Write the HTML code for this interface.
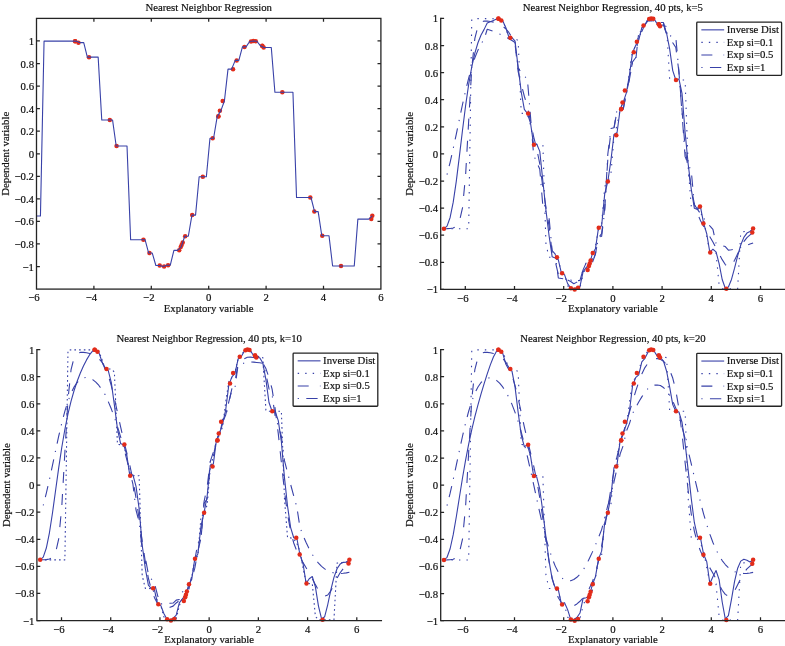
<!DOCTYPE html>
<html lang="en"><head><meta charset="utf-8"><title>Nearest Neighbor Regression</title>
<style>html,body{margin:0;padding:0;background:#fff}body{width:785px;height:646px;overflow:hidden}svg{display:block}</style></head><body>
<svg width="785" height="646" viewBox="0 0 785 646">
<rect width="785" height="646" fill="#fff"/>
<clipPath id="c1"><rect x="36.5" y="18.4" width="344.4" height="270.7"/></clipPath>
<g fill="#e22c1a"><circle cx="75.1" cy="41.14" r="2.25"/><circle cx="75.19" cy="41.16" r="2.25"/><circle cx="78.46" cy="42.67" r="2.25"/><circle cx="89.02" cy="57.15" r="2.25"/><circle cx="109.83" cy="120.05" r="2.25"/><circle cx="116.57" cy="146.04" r="2.25"/><circle cx="143.41" cy="239.71" r="2.25"/><circle cx="149.43" cy="253.05" r="2.25"/><circle cx="159.71" cy="265.5" r="2.25"/><circle cx="164.1" cy="266.53" r="2.25"/><circle cx="168.09" cy="265.18" r="2.25"/><circle cx="179.2" cy="250.33" r="2.25"/><circle cx="180.72" cy="247.11" r="2.25"/><circle cx="181.64" cy="245.03" r="2.25"/><circle cx="182.73" cy="242.45" r="2.25"/><circle cx="185.17" cy="236.22" r="2.25"/><circle cx="192.2" cy="215.09" r="2.25"/><circle cx="202.82" cy="176.71" r="2.25"/><circle cx="212.66" cy="138.23" r="2.25"/><circle cx="218.34" cy="116.56" r="2.25"/><circle cx="218.4" cy="116.35" r="2.25"/><circle cx="219.89" cy="110.87" r="2.25"/><circle cx="222.68" cy="100.97" r="2.25"/><circle cx="233.04" cy="69.16" r="2.25"/><circle cx="236.68" cy="60.39" r="2.25"/><circle cx="244.43" cy="46.89" r="2.25"/><circle cx="251.03" cy="41.48" r="2.25"/><circle cx="253.33" cy="40.97" r="2.25"/><circle cx="255.77" cy="41.23" r="2.25"/><circle cx="262.23" cy="45.8" r="2.25"/><circle cx="262.31" cy="45.9" r="2.25"/><circle cx="263.66" cy="47.57" r="2.25"/><circle cx="282.32" cy="92.26" r="2.25"/><circle cx="310.3" cy="197.51" r="2.25"/><circle cx="314.32" cy="211.59" r="2.25"/><circle cx="322.24" cy="235.79" r="2.25"/><circle cx="341.01" cy="265.95" r="2.25"/><circle cx="371.29" cy="219.12" r="2.25"/><circle cx="372.29" cy="215.86" r="2.25"/></g>
<path clip-path="url(#c1)" d="M11.59 216.02 L15.2 216.02 L18.8 216.02 L22.41 216.02 L26.02 216.02 L29.62 216.02 L33.23 216.02 L36.84 216.02 L40.44 216.02 L44.05 41.14 L47.66 41.14 L51.27 41.14 L54.87 41.14 L58.48 41.14 L62.09 41.14 L65.69 41.14 L69.3 41.14 L72.91 41.14 L76.51 41.16 L80.12 42.67 L83.73 42.67 L87.34 57.15 L90.94 57.15 L94.55 57.15 L98.16 57.15 L101.76 120.05 L105.37 120.05 L108.98 120.05 L112.58 120.05 L116.19 146.04 L119.8 146.04 L123.41 146.04 L127.01 146.04 L130.62 239.71 L134.23 239.71 L137.83 239.71 L141.44 239.71 L145.05 239.71 L148.66 253.05 L152.26 253.05 L155.87 265.5 L159.48 265.5 L163.08 266.53 L166.69 265.18 L170.3 265.18 L173.9 250.33 L177.51 250.33 L181.12 247.11 L184.73 236.22 L188.33 236.22 L191.94 215.09 L195.55 215.09 L199.15 176.71 L202.76 176.71 L206.37 176.71 L209.97 138.23 L213.58 138.23 L217.19 116.56 L220.8 110.87 L224.4 100.97 L228.01 69.16 L231.62 69.16 L235.22 60.39 L238.83 60.39 L242.44 46.89 L246.04 46.89 L249.65 41.48 L253.26 40.97 L256.87 41.23 L260.47 45.8 L264.08 47.57 L267.69 47.57 L271.29 47.57 L274.9 92.26 L278.51 92.26 L282.11 92.26 L285.72 92.26 L289.33 92.26 L292.94 92.26 L296.54 197.51 L300.15 197.51 L303.76 197.51 L307.36 197.51 L310.97 197.51 L314.58 211.59 L318.18 211.59 L321.79 235.79 L325.4 235.79 L329.01 235.79 L332.61 265.95 L336.22 265.95 L339.83 265.95 L343.43 265.95 L347.04 265.95 L350.65 265.95 L354.25 265.95 L357.86 219.12 L361.47 219.12 L365.08 219.12 L368.68 219.12 L372.29 215.86" fill="none" stroke="#3841a8" stroke-width="1.1" stroke-linejoin="round"/>
<rect x="36.5" y="18.4" width="344.4" height="270.7" fill="none" stroke="#242424" stroke-width="1.3"/>
<path d="M93.9 289.1 v-3.4 M93.9 18.4 v3.4 M151.3 289.1 v-3.4 M151.3 18.4 v3.4 M208.7 289.1 v-3.4 M208.7 18.4 v3.4 M266.1 289.1 v-3.4 M266.1 18.4 v3.4 M323.5 289.1 v-3.4 M323.5 18.4 v3.4 M36.5 266.54 h3.4 M380.9 266.54 h-3.4 M36.5 243.98 h3.4 M380.9 243.98 h-3.4 M36.5 221.43 h3.4 M380.9 221.43 h-3.4 M36.5 198.87 h3.4 M380.9 198.87 h-3.4 M36.5 176.31 h3.4 M380.9 176.31 h-3.4 M36.5 153.75 h3.4 M380.9 153.75 h-3.4 M36.5 131.19 h3.4 M380.9 131.19 h-3.4 M36.5 108.63 h3.4 M380.9 108.63 h-3.4 M36.5 86.07 h3.4 M380.9 86.07 h-3.4 M36.5 63.52 h3.4 M380.9 63.52 h-3.4 M36.5 40.96 h3.4 M380.9 40.96 h-3.4" stroke="#242424" stroke-width="1.25" fill="none"/>
<g font-family='"Liberation Serif", serif' font-size="10.75" fill="#111" stroke="#111" stroke-width="0.2">
<text x="34" y="301.2" text-anchor="middle">−6</text>
<text x="91.4" y="301.2" text-anchor="middle">−4</text>
<text x="148.8" y="301.2" text-anchor="middle">−2</text>
<text x="208.7" y="301.2" text-anchor="middle">0</text>
<text x="266.1" y="301.2" text-anchor="middle">2</text>
<text x="323.5" y="301.2" text-anchor="middle">4</text>
<text x="380.9" y="301.2" text-anchor="middle">6</text>
<text x="34" y="270.54" text-anchor="end">−1</text>
<text x="34" y="247.98" text-anchor="end">−0.8</text>
<text x="34" y="225.43" text-anchor="end">−0.6</text>
<text x="34" y="202.87" text-anchor="end">−0.4</text>
<text x="34" y="180.31" text-anchor="end">−0.2</text>
<text x="34" y="157.75" text-anchor="end">0</text>
<text x="34" y="135.19" text-anchor="end">0.2</text>
<text x="34" y="112.63" text-anchor="end">0.4</text>
<text x="34" y="90.07" text-anchor="end">0.6</text>
<text x="34" y="67.52" text-anchor="end">0.8</text>
<text x="34" y="44.96" text-anchor="end">1</text>
<text x="208.7" y="10.9" text-anchor="middle">Nearest Neighbor Regression</text>
<text x="208.7" y="311.7" text-anchor="middle">Explanatory variable</text>
<text transform="translate(9.1 153.75) rotate(-90)" text-anchor="middle">Dependent variable</text>
</g>
<path d="M443.95 228.74 L447.04 226.12 L450.13 217.45 L453.22 202.18 L456.31 181.06 L459.41 156.15 L462.5 130.21 L465.59 105.76 L468.68 84.43 L471.77 66.93 L474.86 53.19 L477.96 42.75 L481.05 35.01 L484.14 29.38 L487.23 22.97 L490.32 21.72 L493.41 20.38 L496.51 19.1 L499.6 19.15 L502.69 20.85 L505.78 27.51 L508.87 36.98 L511.97 37.66 L515.06 41.2 L518.15 67.34 L521.24 92.02 L524.33 109.31 L527.42 113.55 L530.52 123.01 L533.61 144.57 L536.7 143.95 L539.79 151.34 L542.88 181.26 L545.97 210.3 L549.07 235.74 L552.16 256.8 L555.25 258.01 L558.34 259.81 L561.43 273.03 L564.52 274.67 L567.62 283.65 L570.71 288.18 L573.8 289.13 L576.89 287.85 L579.98 286.36 L583.07 271.83 L586.17 267.5 L589.26 265.05 L592.35 253.79 L595.44 248.82 L598.53 227.69 L601.63 225.68 L604.72 193.92 L607.81 181.51 L610.9 160.49 L613.99 134.4 L617.08 132.48 L620.18 108.96 L623.27 102.09 L626.36 92.92 L629.45 74.9 L632.54 52.77 L635.63 45.43 L638.73 40.14 L641.82 27.58 L644.91 24.92 L648 19.35 L651.09 18.42 L654.18 19.09 L657.28 24.07 L660.37 26.12 L663.46 24.71 L666.55 33 L669.64 48.83 L672.74 70.58 L675.83 80.02 L678.92 78.93 L682.01 93.31 L685.1 132.21 L688.19 164.29 L691.29 189.33 L694.38 208.35 L697.47 209.48 L700.56 207.29 L703.65 223.39 L706.74 233.74 L709.84 252.32 L712.93 249.23 L716.02 251.8 L719.11 263.54 L722.2 279.52 L725.29 288.23 L728.39 287.02 L731.48 279.43 L734.57 268.15 L737.66 255.8 L740.75 245 L743.84 237.38 L746.94 233.08 L750.03 231.49 L753.12 228.56" fill="none" stroke="#3841a8" stroke-width="1.1" stroke-linejoin="round"/>
<path d="M443.95 228.74 L447.04 228.74 L450.13 228.74 L453.22 228.74 L456.31 228.74 L459.41 228.74 L462.5 228.74 L465.59 228.74 L468.68 228.74 L471.77 19.16 L474.86 18.63 L477.96 18.63 L481.05 18.63 L484.14 18.63 L487.23 18.64 L490.32 18.64 L493.41 18.68 L496.51 18.81 L499.6 19.2 L502.69 19.94 L505.78 28.48 L508.87 37.67 L511.97 37.85 L515.06 37.85 L518.15 40.8 L521.24 113.23 L524.33 113.48 L527.42 114.39 L530.52 125.19 L533.61 142.18 L536.7 144.52 L539.79 144.65 L542.88 144.67 L545.97 244.39 L549.07 257.21 L552.16 257.24 L555.25 257.62 L558.34 261.51 L561.43 270.63 L564.52 273.81 L567.62 285.84 L570.71 288.43 L573.8 288.84 L576.89 288.49 L579.98 287.79 L583.07 274.42 L586.17 266.57 L589.26 263.85 L592.35 259.78 L595.44 246.26 L598.53 229.3 L601.63 224.3 L604.72 186.44 L607.81 181.45 L610.9 173.96 L613.99 137.02 L617.08 124.76 L620.18 109.2 L623.27 102.52 L626.36 95.77 L629.45 70.65 L632.54 50.56 L635.63 46.52 L638.73 40.74 L641.82 27.9 L644.91 24.05 L648 19.6 L651.09 18.73 L654.18 19.68 L657.28 24.04 L660.37 25.02 L663.46 25.37 L666.55 26.45 L669.64 79.15 L672.74 80.04 L675.83 80.04 L678.92 80.04 L682.01 80.04 L685.1 80.04 L688.19 167.35 L691.29 206.55 L694.38 206.76 L697.47 207.89 L700.56 212.31 L703.65 219.92 L706.74 236.43 L709.84 251.52 L712.93 252.46 L716.02 252.59 L719.11 285.31 L722.2 288.74 L725.29 288.74 L728.39 288.74 L731.48 288.74 L734.57 288.74 L737.66 288.68 L740.75 231.95 L743.84 231.6 L746.94 231.27 L750.03 230.88 L753.12 230.45" fill="none" stroke="#3841a8" stroke-width="1.1" stroke-linejoin="round" stroke-dasharray="1.4 6.1"/>
<path d="M443.95 228.71 L447.04 228.66 L450.13 228.48 L453.22 227.95 L456.31 226.33 L459.41 221.48 L462.5 207.83 L465.59 175.27 L468.68 120.95 L471.77 68.28 L474.86 38.33 L477.96 26.27 L481.05 22.22 L484.14 21.09 L487.23 20.93 L490.32 21.44 L493.41 22.13 L496.51 23.06 L499.6 24.35 L502.69 26.17 L505.78 28.76 L508.87 32.42 L511.97 37.51 L515.06 44.28 L518.15 71.57 L521.24 84.34 L524.33 96.25 L527.42 106.31 L530.52 121.58 L533.61 136.57 L536.7 148.72 L539.79 163.83 L542.88 187.53 L545.97 207.38 L549.07 226.23 L552.16 253.07 L555.25 261.38 L558.34 274.37 L561.43 276.27 L564.52 278.13 L567.62 279.9 L570.71 281.51 L573.8 283.7 L576.89 282.12 L579.98 280.85 L583.07 269.89 L586.17 262.9 L589.26 262.7 L592.35 262.5 L595.44 253.73 L598.53 237.71 L601.63 233.63 L604.72 208.11 L607.81 159.26 L610.9 131.94 L613.99 128.56 L617.08 110.15 L620.18 109.32 L623.27 108.52 L626.36 93.43 L629.45 78.65 L632.54 61.82 L635.63 57.76 L638.73 33.25 L641.82 31.52 L644.91 24.47 L648 20.97 L651.09 20.92 L654.18 20.9 L657.28 22.52 L660.37 22.74 L663.46 22.95 L666.55 34.84 L669.64 38.49 L672.74 42.78 L675.83 47.54 L678.92 71.88 L682.01 110.03 L685.1 147.52 L688.19 169.51 L691.29 187.84 L694.38 204.22 L697.47 213.68 L700.56 220.79 L703.65 226.52 L706.74 231.62 L709.84 236.68 L712.93 242.05 L716.02 248.09 L719.11 253.92 L722.2 259.65 L725.29 264.58 L728.39 267.38 L731.48 265.17 L734.57 260.31 L737.66 253.84 L740.75 247.25 L743.84 241.7 L746.94 237.62 L750.03 234.87 L753.12 233.12" fill="none" stroke="#3841a8" stroke-width="1.1" stroke-linejoin="round" stroke-dasharray="11 11.2"/>
<path d="M447.04 174.55 L450.13 162.27 L453.22 148.64 L456.31 134.1 L459.41 119.18 L462.5 104.51 L465.59 90.67 L468.68 78.11 L471.77 67.12 L474.86 57.81 L477.96 50.14 L481.05 43.96 L484.14 39.1 L487.23 29.26 L490.32 30.27 L493.41 31.39 L496.51 32.61 L499.6 33.95 L502.69 35.41 L505.78 37 L508.87 38.71 L511.97 40.56 L515.06 42.54 L518.15 68.52 L521.24 72.16 L524.33 75.85 L527.42 79.54 L530.52 116.6 L533.61 154.98 L536.7 162.09 L539.79 169.25 L542.88 206.31 L545.97 212.09 L549.07 217.76 L552.16 250.72 L555.25 254.11 L558.34 277.95 L561.43 278.43 L564.52 278.9 L567.62 279.36 L570.71 279.81 L573.8 282.25 L576.89 280.78 L579.98 280.43 L583.07 269.67 L586.17 262.71 L589.26 262.66 L592.35 262.61 L595.44 254.06 L598.53 237.38 L601.63 236.34 L604.72 210.66 L607.81 154.27 L610.9 128.57 L613.99 127.75 L617.08 109.5 L620.18 109.29 L623.27 109.08 L626.36 92.88 L629.45 79.05 L632.54 62.35 L635.63 61.23 L638.73 31.88 L641.82 31.43 L644.91 24.63 L648 21.13 L651.09 21.12 L654.18 20.93 L657.28 22.44 L660.37 22.5 L663.46 22.55 L666.55 34.79 L669.64 35.68 L672.74 36.61 L675.83 37.58 L678.92 71.71 L682.01 113.05 L685.1 156.66 L688.19 164.15 L691.29 171.24 L694.38 204.7 L697.47 209.38 L700.56 213.84 L703.65 218.07 L706.74 222.08 L709.84 225.87 L712.93 229.46 L716.02 243.23 L719.11 244.43 L722.2 245.56 L725.29 246.6 L728.39 250.2 L731.48 249.69 L734.57 249.02 L737.66 248.21 L740.75 247.27 L743.84 246.25 L746.94 245.17 L750.03 244.06 L753.12 242.94" fill="none" stroke="#3841a8" stroke-width="1.1" stroke-linejoin="round" stroke-dasharray="1.2 7.4 11.3 7.5"/>
<g fill="#e22c1a"><circle cx="443.95" cy="228.74" r="2.25"/><circle cx="498.39" cy="18.62" r="2.25"/><circle cx="498.46" cy="18.65" r="2.25"/><circle cx="501.27" cy="20.46" r="2.25"/><circle cx="510.32" cy="37.85" r="2.25"/><circle cx="528.15" cy="113.43" r="2.25"/><circle cx="533.93" cy="144.66" r="2.25"/><circle cx="556.93" cy="257.21" r="2.25"/><circle cx="562.1" cy="273.23" r="2.25"/><circle cx="570.91" cy="288.19" r="2.25"/><circle cx="574.67" cy="289.43" r="2.25"/><circle cx="578.09" cy="287.81" r="2.25"/><circle cx="587.61" cy="269.97" r="2.25"/><circle cx="588.91" cy="266.1" r="2.25"/><circle cx="589.7" cy="263.61" r="2.25"/><circle cx="590.64" cy="260.51" r="2.25"/><circle cx="592.73" cy="253.01" r="2.25"/><circle cx="598.75" cy="227.63" r="2.25"/><circle cx="607.86" cy="181.51" r="2.25"/><circle cx="616.29" cy="135.28" r="2.25"/><circle cx="621.17" cy="109.24" r="2.25"/><circle cx="621.21" cy="108.98" r="2.25"/><circle cx="622.49" cy="102.4" r="2.25"/><circle cx="624.88" cy="90.5" r="2.25"/><circle cx="633.76" cy="52.29" r="2.25"/><circle cx="636.88" cy="41.75" r="2.25"/><circle cx="643.53" cy="25.53" r="2.25"/><circle cx="649.18" cy="19.02" r="2.25"/><circle cx="651.15" cy="18.42" r="2.25"/><circle cx="653.24" cy="18.72" r="2.25"/><circle cx="658.78" cy="24.22" r="2.25"/><circle cx="658.85" cy="24.34" r="2.25"/><circle cx="660.01" cy="26.35" r="2.25"/><circle cx="676" cy="80.04" r="2.25"/><circle cx="699.98" cy="206.5" r="2.25"/><circle cx="703.43" cy="223.42" r="2.25"/><circle cx="710.22" cy="252.49" r="2.25"/><circle cx="726.31" cy="288.74" r="2.25"/><circle cx="752.26" cy="232.47" r="2.25"/><circle cx="753.12" cy="228.56" r="2.25"/></g>
<path d="M440.7 18.4 V289.45 H785.1" fill="none" stroke="#242424" stroke-width="1.3" stroke-linecap="square"/>
<path d="M465.3 289.45 v-3.4 M514.5 289.45 v-3.4 M563.7 289.45 v-3.4 M612.9 289.45 v-3.4 M662.1 289.45 v-3.4 M711.3 289.45 v-3.4 M760.5 289.45 v-3.4 M440.7 289.45 h3.4 M440.7 262.34 h3.4 M440.7 235.24 h3.4 M440.7 208.13 h3.4 M440.7 181.03 h3.4 M440.7 153.92 h3.4 M440.7 126.82 h3.4 M440.7 99.72 h3.4 M440.7 72.61 h3.4 M440.7 45.5 h3.4 M440.7 18.4 h3.4" stroke="#242424" stroke-width="1.25" fill="none"/>
<g font-family='"Liberation Serif", serif' font-size="10.75" fill="#111" stroke="#111" stroke-width="0.2">
<text x="462.8" y="301.55" text-anchor="middle">−6</text>
<text x="512" y="301.55" text-anchor="middle">−4</text>
<text x="561.2" y="301.55" text-anchor="middle">−2</text>
<text x="612.9" y="301.55" text-anchor="middle">0</text>
<text x="662.1" y="301.55" text-anchor="middle">2</text>
<text x="711.3" y="301.55" text-anchor="middle">4</text>
<text x="760.5" y="301.55" text-anchor="middle">6</text>
<text x="438.2" y="293.45" text-anchor="end">−1</text>
<text x="438.2" y="266.34" text-anchor="end">−0.8</text>
<text x="438.2" y="239.24" text-anchor="end">−0.6</text>
<text x="438.2" y="212.13" text-anchor="end">−0.4</text>
<text x="438.2" y="185.03" text-anchor="end">−0.2</text>
<text x="438.2" y="157.92" text-anchor="end">0</text>
<text x="438.2" y="130.82" text-anchor="end">0.2</text>
<text x="438.2" y="103.72" text-anchor="end">0.4</text>
<text x="438.2" y="76.61" text-anchor="end">0.6</text>
<text x="438.2" y="49.5" text-anchor="end">0.8</text>
<text x="438.2" y="22.4" text-anchor="end">1</text>
<text x="612.9" y="10.9" text-anchor="middle">Nearest Neighbor Regression, 40 pts, k=5</text>
<text x="612.9" y="312.05" text-anchor="middle">Explanatory variable</text>
<text transform="translate(413.3 153.92) rotate(-90)" text-anchor="middle">Dependent variable</text>
</g>
<rect x="696.75" y="22.1" width="84.85" height="53.3" rx="0.8" fill="#fff" stroke="#242424" stroke-width="1.3"/>
<g font-family='"Liberation Serif", serif' font-size="10.75" fill="#111" stroke="#111" stroke-width="0.2">
<path d="M701.35 29.85 h22.8" stroke="#3841a8" stroke-width="1.1" fill="none"/>
<text x="726.75" y="33.25">Inverse Dist</text>
<path d="M701.35 42.4 h22.8" stroke="#3841a8" stroke-width="1.1" fill="none" stroke-dasharray="1.4 6.1"/>
<text x="726.75" y="45.8">Exp si=0.1</text>
<path d="M701.35 54.95 h22.8" stroke="#3841a8" stroke-width="1.1" fill="none" stroke-dasharray="11 11.2"/>
<text x="726.75" y="58.35">Exp si=0.5</text>
<path d="M701.35 67.5 h22.8" stroke="#3841a8" stroke-width="1.1" fill="none" stroke-dasharray="1.2 7.4 11.3 7.5"/>
<text x="726.75" y="70.9">Exp si=1</text>
</g>
<path d="M40.15 559.86 L43.24 557.08 L46.33 548.05 L49.43 532.78 L52.52 512.72 L55.61 490.28 L58.7 467.9 L61.8 447.29 L64.89 429.27 L67.98 413.95 L71.07 401.08 L74.17 390.23 L77.26 380.99 L80.35 372.99 L83.44 366 L86.54 359.88 L89.63 354.7 L92.72 350.86 L95.82 350.55 L98.91 352.68 L102 361.78 L105.09 369.06 L108.19 370.27 L111.28 382.31 L114.37 404.81 L117.46 428.79 L120.56 443.44 L123.65 444.9 L126.74 454.67 L129.83 475.71 L132.93 474.81 L136.02 486.37 L139.11 508.48 L142.2 545.02 L145.3 568.38 L148.39 585.23 L151.48 588.82 L154.58 590.36 L157.67 604.04 L160.76 605.39 L163.85 613.56 L166.95 619.27 L170.04 619.89 L173.13 618.35 L176.22 615.19 L179.32 602.84 L182.41 598.77 L185.5 596.14 L188.59 584.83 L191.69 579.57 L194.78 558.83 L197.87 553.98 L200.96 526.44 L204.06 512.65 L207.15 496.16 L210.24 465.23 L213.34 463.94 L216.43 440.14 L219.52 433.1 L222.61 423.85 L225.71 409.78 L228.8 385.18 L231.89 376.9 L234.98 373.37 L238.08 359.05 L241.17 356.7 L244.26 351.15 L247.35 349.62 L250.45 350.68 L253.54 355.44 L256.63 357.35 L259.72 357.73 L262.82 363.09 L265.91 379.56 L269 402.49 L272.1 411.2 L275.19 411.45 L278.28 420.64 L281.37 441.76 L284.47 477.66 L287.56 506.27 L290.65 527.61 L293.74 537.77 L296.84 538.26 L299.93 554.5 L303.02 563.48 L306.11 583.39 L309.21 578.76 L312.3 576.52 L315.39 586.81 L318.48 606.08 L321.58 618.98 L324.67 616.71 L327.76 604.51 L330.85 589.91 L333.95 577.37 L337.04 568.75 L340.13 564.1 L343.23 562.34 L346.32 562.25 L349.41 559.68" fill="none" stroke="#3841a8" stroke-width="1.1" stroke-linejoin="round"/>
<path d="M40.15 559.86 L43.24 559.86 L46.33 559.86 L49.43 559.86 L52.52 559.86 L55.61 559.86 L58.7 559.86 L61.8 559.86 L64.89 559.86 L67.98 350.36 L71.07 349.83 L74.17 349.83 L77.26 349.83 L80.35 349.83 L83.44 349.84 L86.54 349.84 L89.63 349.88 L92.72 350.01 L95.82 350.4 L98.91 351.14 L102 359.67 L105.09 368.87 L108.19 369.04 L111.28 369.04 L114.37 371.99 L117.46 444.4 L120.56 444.65 L123.65 445.55 L126.74 456.35 L129.83 473.33 L132.93 475.67 L136.02 475.81 L139.11 475.82 L142.2 575.51 L145.3 588.33 L148.39 588.35 L151.48 588.73 L154.58 592.62 L157.67 601.74 L160.76 604.92 L163.85 616.94 L166.95 619.53 L170.04 619.94 L173.13 619.59 L176.22 618.87 L179.32 605.61 L182.41 597.73 L185.5 594.96 L188.59 590.52 L191.69 577.5 L194.78 560.44 L197.87 555.42 L200.96 517.58 L204.06 512.59 L207.15 505.1 L210.24 468.18 L213.34 455.96 L216.43 440.36 L219.52 433.69 L222.61 426.94 L225.71 402.14 L228.8 381.75 L231.89 377.71 L234.98 371.93 L238.08 359.1 L241.17 355.25 L244.26 350.81 L247.35 349.95 L250.45 351.09 L253.54 355.23 L256.63 356.22 L259.72 356.57 L262.82 357.64 L265.91 410.33 L269 411.22 L272.1 411.22 L275.19 411.22 L278.28 411.22 L281.37 411.22 L284.47 498.5 L287.56 537.68 L290.65 537.89 L293.74 539.02 L296.84 543.44 L299.93 551.04 L303.02 567.55 L306.11 582.64 L309.21 583.58 L312.3 583.7 L315.39 616.41 L318.48 619.84 L321.58 619.84 L324.67 619.84 L327.76 619.84 L330.85 619.84 L333.95 619.78 L337.04 563.07 L340.13 562.73 L343.23 562.39 L346.32 562 L349.41 561.57" fill="none" stroke="#3841a8" stroke-width="1.1" stroke-linejoin="round" stroke-dasharray="1.6 3.12"/>
<path d="M40.15 559.84 L43.24 559.78 L46.33 559.61 L49.43 559.07 L52.52 557.45 L55.61 552.6 L58.7 538.96 L61.8 506.41 L64.89 452.11 L67.98 399.47 L71.07 369.54 L74.17 357.51 L77.26 353.49 L80.35 352.41 L83.44 352.38 L86.54 352.8 L89.63 353.53 L92.72 354.61 L95.82 356.21 L98.91 358.59 L102 362.19 L105.09 367.53 L108.19 375.21 L111.28 385.56 L114.37 398.34 L117.46 412.51 L120.56 426.73 L123.65 440.09 L126.74 452.65 L129.83 465.42 L132.93 479.89 L136.02 497.98 L139.11 518.66 L142.2 541.04 L145.3 561.47 L148.39 578.24 L151.48 589.97 L154.58 597.88 L157.67 603.87 L160.76 607.36 L163.85 607.92 L166.95 607.89 L170.04 607.26 L173.13 606.12 L176.22 602.97 L179.32 600.49 L182.41 595.47 L185.5 591.99 L188.59 588.26 L191.69 579.47 L194.78 568.13 L197.87 551.52 L200.96 538.28 L204.06 501.53 L207.15 486.97 L210.24 461.65 L213.34 452.2 L216.43 440.2 L219.52 432.88 L222.61 422.23 L225.71 414.93 L228.8 402.34 L231.89 388.74 L234.98 381.41 L238.08 363.84 L241.17 361 L244.26 358.8 L247.35 357.22 L250.45 357.12 L253.54 357.58 L256.63 358.69 L259.72 360.51 L262.82 363.15 L265.91 368.57 L269 377.46 L272.1 389.14 L275.19 409.1 L278.28 433.65 L281.37 462.31 L284.47 491.26 L287.56 514.39 L290.65 531.32 L293.74 543 L296.84 551.15 L299.93 557.35 L303.02 562.63 L306.11 567.75 L309.21 573.1 L312.3 578.8 L315.39 584.64 L318.48 590.08 L321.58 594.24 L324.67 596.13 L327.76 594.98 L330.85 590.81 L333.95 584.7 L337.04 578.27 L340.13 572.79 L343.23 568.72 L346.32 565.98 L349.41 564.24" fill="none" stroke="#3841a8" stroke-width="1.1" stroke-linejoin="round" stroke-dasharray="11 11.2"/>
<path d="M43.24 505.45 L46.33 493.16 L49.43 479.58 L52.52 465.15 L55.61 450.47 L58.7 436.2 L61.8 422.94 L64.89 411.17 L67.98 401.19 L71.07 393.1 L74.17 386.87 L77.26 382.37 L80.35 379.42 L83.44 377.82 L86.54 377.42 L89.63 378.08 L92.72 379.68 L95.82 382.16 L98.91 385.49 L102 389.64 L105.09 394.64 L108.19 401.4 L111.28 408.82 L114.37 417.16 L117.46 426.44 L120.56 436.63 L123.65 447.66 L126.74 459.4 L129.83 471.66 L132.93 484.21 L136.02 509.99 L139.11 521.89 L142.2 549.54 L145.3 557.77 L148.39 574.15 L151.48 579.17 L154.58 583.63 L157.67 595.75 L160.76 603.91 L163.85 603.74 L166.95 603.55 L170.04 603.32 L173.13 603.06 L176.22 600.16 L179.32 599.44 L182.41 591.96 L185.5 590.6 L188.59 589.21 L191.69 576.14 L194.78 560.42 L197.87 542.74 L200.96 538.7 L204.06 503.43 L207.15 498.94 L210.24 461.75 L213.34 457.87 L216.43 439.18 L219.52 436.03 L222.61 419.38 L225.71 416.75 L228.8 401.98 L231.89 389.75 L234.98 387.55 L238.08 364.9 L241.17 363.95 L244.26 363.06 L247.35 361.75 L250.45 361.9 L253.54 362.13 L256.63 362.44 L259.72 362.81 L262.82 363.27 L265.91 373.85 L269 388.73 L272.1 394.78 L275.19 416.49 L278.28 426.03 L281.37 436.21 L284.47 460.66 L287.56 472.62 L290.65 484.49 L293.74 496.02 L296.84 507 L299.93 527.23 L303.02 535.31 L306.11 542.54 L309.21 548.92 L312.3 554.45 L315.39 559.17 L318.48 563.11 L321.58 566.33 L324.67 568.86 L327.76 570.78 L330.85 572.14 L333.95 573 L337.04 573.44 L340.13 573.52 L343.23 573.32 L346.32 572.91 L349.41 572.33" fill="none" stroke="#3841a8" stroke-width="1.1" stroke-linejoin="round" stroke-dasharray="1.2 7.4 11.3 7.5"/>
<g fill="#e22c1a"><circle cx="40.15" cy="559.86" r="2.25"/><circle cx="94.6" cy="349.82" r="2.25"/><circle cx="94.68" cy="349.85" r="2.25"/><circle cx="97.48" cy="351.65" r="2.25"/><circle cx="106.54" cy="369.04" r="2.25"/><circle cx="124.38" cy="444.6" r="2.25"/><circle cx="130.16" cy="475.81" r="2.25"/><circle cx="153.17" cy="588.32" r="2.25"/><circle cx="158.34" cy="604.34" r="2.25"/><circle cx="167.15" cy="619.3" r="2.25"/><circle cx="170.91" cy="620.53" r="2.25"/><circle cx="174.33" cy="618.91" r="2.25"/><circle cx="183.85" cy="601.08" r="2.25"/><circle cx="185.16" cy="597.21" r="2.25"/><circle cx="185.95" cy="594.72" r="2.25"/><circle cx="186.88" cy="591.62" r="2.25"/><circle cx="188.97" cy="584.13" r="2.25"/><circle cx="195" cy="558.75" r="2.25"/><circle cx="204.11" cy="512.65" r="2.25"/><circle cx="212.55" cy="466.44" r="2.25"/><circle cx="217.42" cy="440.41" r="2.25"/><circle cx="217.47" cy="440.15" r="2.25"/><circle cx="218.75" cy="433.57" r="2.25"/><circle cx="221.13" cy="421.68" r="2.25"/><circle cx="230.02" cy="383.47" r="2.25"/><circle cx="233.14" cy="372.94" r="2.25"/><circle cx="239.79" cy="356.73" r="2.25"/><circle cx="245.45" cy="350.22" r="2.25"/><circle cx="247.41" cy="349.62" r="2.25"/><circle cx="249.51" cy="349.92" r="2.25"/><circle cx="255.04" cy="355.42" r="2.25"/><circle cx="255.12" cy="355.54" r="2.25"/><circle cx="256.27" cy="357.55" r="2.25"/><circle cx="272.27" cy="411.22" r="2.25"/><circle cx="296.26" cy="537.63" r="2.25"/><circle cx="299.7" cy="554.54" r="2.25"/><circle cx="306.5" cy="583.61" r="2.25"/><circle cx="322.59" cy="619.84" r="2.25"/><circle cx="348.55" cy="563.59" r="2.25"/><circle cx="349.41" cy="559.68" r="2.25"/></g>
<path d="M36.9 349.6 V620.55 H381.4" fill="none" stroke="#242424" stroke-width="1.3" stroke-linecap="square"/>
<path d="M61.51 620.55 v-3.4 M110.72 620.55 v-3.4 M159.94 620.55 v-3.4 M209.15 620.55 v-3.4 M258.36 620.55 v-3.4 M307.58 620.55 v-3.4 M356.79 620.55 v-3.4 M36.9 620.55 h3.4 M36.9 593.45 h3.4 M36.9 566.36 h3.4 M36.9 539.26 h3.4 M36.9 512.17 h3.4 M36.9 485.07 h3.4 M36.9 457.98 h3.4 M36.9 430.88 h3.4 M36.9 403.79 h3.4 M36.9 376.7 h3.4 M36.9 349.6 h3.4" stroke="#242424" stroke-width="1.25" fill="none"/>
<g font-family='"Liberation Serif", serif' font-size="10.75" fill="#111" stroke="#111" stroke-width="0.2">
<text x="59.01" y="632.65" text-anchor="middle">−6</text>
<text x="108.22" y="632.65" text-anchor="middle">−4</text>
<text x="157.44" y="632.65" text-anchor="middle">−2</text>
<text x="209.15" y="632.65" text-anchor="middle">0</text>
<text x="258.36" y="632.65" text-anchor="middle">2</text>
<text x="307.58" y="632.65" text-anchor="middle">4</text>
<text x="356.79" y="632.65" text-anchor="middle">6</text>
<text x="34.4" y="624.55" text-anchor="end">−1</text>
<text x="34.4" y="597.45" text-anchor="end">−0.8</text>
<text x="34.4" y="570.36" text-anchor="end">−0.6</text>
<text x="34.4" y="543.26" text-anchor="end">−0.4</text>
<text x="34.4" y="516.17" text-anchor="end">−0.2</text>
<text x="34.4" y="489.07" text-anchor="end">0</text>
<text x="34.4" y="461.98" text-anchor="end">0.2</text>
<text x="34.4" y="434.88" text-anchor="end">0.4</text>
<text x="34.4" y="407.79" text-anchor="end">0.6</text>
<text x="34.4" y="380.7" text-anchor="end">0.8</text>
<text x="34.4" y="353.6" text-anchor="end">1</text>
<text x="209.15" y="342.1" text-anchor="middle">Nearest Neighbor Regression, 40 pts, k=10</text>
<text x="209.15" y="643.15" text-anchor="middle">Explanatory variable</text>
<text transform="translate(9.5 485.07) rotate(-90)" text-anchor="middle">Dependent variable</text>
</g>
<rect x="293.1" y="353.1" width="84.7" height="53.15" rx="0.8" fill="#fff" stroke="#242424" stroke-width="1.3"/>
<g font-family='"Liberation Serif", serif' font-size="10.75" fill="#111" stroke="#111" stroke-width="0.2">
<path d="M297.7 360.85 h22.8" stroke="#3841a8" stroke-width="1.1" fill="none"/>
<text x="323.1" y="364.25">Inverse Dist</text>
<path d="M297.7 373.4 h22.8" stroke="#3841a8" stroke-width="1.1" fill="none" stroke-dasharray="1.4 6.1"/>
<text x="323.1" y="376.8">Exp si=0.1</text>
<path d="M297.7 385.95 h22.8" stroke="#3841a8" stroke-width="1.1" fill="none" stroke-dasharray="11 11.2"/>
<text x="323.1" y="389.35">Exp si=0.5</text>
<path d="M297.7 398.5 h22.8" stroke="#3841a8" stroke-width="1.1" fill="none" stroke-dasharray="1.2 7.4 11.3 7.5"/>
<text x="323.1" y="401.9">Exp si=1</text>
</g>
<path d="M443.95 559.98 L447.04 557.3 L450.13 548.75 L453.22 534.66 L456.31 516.74 L459.41 497.24 L462.5 478.02 L465.59 460.18 L468.68 444.1 L471.77 429.71 L474.86 416.74 L477.96 404.89 L481.05 393.89 L484.14 383.56 L487.23 373.86 L490.32 364.89 L493.41 357.07 L496.51 351.31 L499.6 350.71 L502.69 353.17 L505.78 364.02 L508.87 369.7 L511.97 371.12 L515.06 387.15 L518.15 412.24 L521.24 435.22 L524.33 446.56 L527.42 445.12 L530.52 455.88 L533.61 475.81 L536.7 476.91 L539.79 489.46 L542.88 511.92 L545.97 537.57 L549.07 561.04 L552.16 578.8 L555.25 587.81 L558.34 589.77 L561.43 603.93 L564.52 602.68 L567.62 609.65 L570.71 619.39 L573.8 619.49 L576.89 617.56 L579.98 613.04 L583.07 598.35 L586.17 597.83 L589.26 596.2 L592.35 584.81 L595.44 576.8 L598.53 558.91 L601.63 551.13 L604.72 522.6 L607.81 512.74 L610.9 496.08 L613.99 467.64 L617.08 464.16 L620.18 440.39 L623.27 433.25 L626.36 424.33 L629.45 410.95 L632.54 385.86 L635.63 377.7 L638.73 374.87 L641.82 361.87 L644.91 358.31 L648 352.17 L651.09 349.62 L654.18 351.24 L657.28 356.1 L660.37 357.43 L663.46 361.03 L666.55 371 L669.64 386.96 L672.74 404.63 L675.83 411.24 L678.92 412.03 L682.01 422.24 L685.1 443.33 L688.19 470.36 L691.29 498.73 L694.38 522.71 L697.47 536.47 L700.56 538.29 L703.65 554.59 L706.74 561.6 L709.84 583.46 L712.93 576.66 L716.02 570.53 L719.11 579.58 L722.2 601.98 L725.29 618.81 L728.39 615.66 L731.48 599.33 L734.57 581.46 L737.66 568.2 L740.75 561.13 L743.84 559.22 L746.94 560.19 L750.03 561.91 L753.12 559.8" fill="none" stroke="#3841a8" stroke-width="1.1" stroke-linejoin="round"/>
<path d="M443.95 559.98 L447.04 559.98 L450.13 559.98 L453.22 559.98 L456.31 559.98 L459.41 559.98 L462.5 559.98 L465.59 559.98 L468.68 559.98 L471.77 350.36 L474.86 349.83 L477.96 349.83 L481.05 349.83 L484.14 349.83 L487.23 349.84 L490.32 349.84 L493.41 349.88 L496.51 350.01 L499.6 350.4 L502.69 351.14 L505.78 359.68 L508.87 368.88 L511.97 369.05 L515.06 369.05 L518.15 372.01 L521.24 444.45 L524.33 444.7 L527.42 445.61 L530.52 456.41 L533.61 473.4 L536.7 475.74 L539.79 475.88 L542.88 475.89 L545.97 575.63 L549.07 588.46 L552.16 588.49 L555.25 588.86 L558.34 592.75 L561.43 601.88 L564.52 605.06 L567.62 617.08 L570.71 619.68 L573.8 620.09 L576.89 619.74 L579.98 619.02 L583.07 605.75 L586.17 597.87 L589.26 595.09 L592.35 590.65 L595.44 577.62 L598.53 560.56 L601.63 555.54 L604.72 517.68 L607.81 512.68 L610.9 505.19 L613.99 468.24 L617.08 456.02 L620.18 440.41 L623.27 433.74 L626.36 426.98 L629.45 402.17 L632.54 381.76 L635.63 377.73 L638.73 371.95 L641.82 359.1 L644.91 355.25 L648 350.81 L651.09 349.95 L654.18 351.09 L657.28 355.23 L660.37 356.22 L663.46 356.57 L666.55 357.65 L669.64 410.37 L672.74 411.25 L675.83 411.25 L678.92 411.25 L682.01 411.25 L685.1 411.25 L688.19 498.58 L691.29 537.78 L694.38 537.99 L697.47 539.13 L700.56 543.55 L703.65 551.15 L706.74 567.67 L709.84 582.77 L712.93 583.71 L716.02 583.83 L719.11 616.56 L722.2 619.99 L725.29 619.99 L728.39 619.99 L731.48 619.99 L734.57 619.99 L737.66 619.93 L740.75 563.19 L743.84 562.84 L746.94 562.51 L750.03 562.12 L753.12 561.69" fill="none" stroke="#3841a8" stroke-width="1.1" stroke-linejoin="round" stroke-dasharray="1.4 6.1"/>
<path d="M443.95 559.95 L447.04 559.9 L450.13 559.72 L453.22 559.19 L456.31 557.57 L459.41 552.71 L462.5 539.06 L465.59 506.49 L468.68 452.16 L471.77 399.5 L474.86 369.55 L477.96 357.51 L481.05 353.49 L484.14 352.41 L487.23 352.38 L490.32 352.8 L493.41 353.53 L496.51 354.61 L499.6 356.21 L502.69 358.6 L505.78 362.19 L508.87 367.54 L511.97 375.22 L515.06 385.58 L518.15 398.36 L521.24 412.55 L524.33 426.78 L527.42 440.16 L530.52 452.75 L533.61 465.59 L536.7 480.2 L539.79 497.9 L542.88 518.78 L545.97 541.03 L549.07 561.62 L552.16 578.15 L555.25 589.98 L558.34 597.8 L561.43 602.68 L564.52 605.5 L567.62 606.78 L570.71 606.83 L573.8 605.83 L576.89 603.94 L579.98 601.27 L583.07 597.9 L586.17 593.75 L589.26 588.56 L592.35 581.86 L595.44 572.97 L598.53 561.17 L601.63 546.02 L604.72 527.86 L607.81 508.09 L610.9 488.75 L613.99 471.26 L617.08 456.41 L620.18 443.81 L623.27 432.84 L626.36 422.17 L629.45 411.97 L632.54 401.59 L635.63 391.44 L638.73 382.01 L641.82 373.94 L644.91 367.61 L648 363.11 L651.09 360.27 L654.18 358.82 L657.28 358.56 L660.37 359.37 L663.46 361.32 L666.55 364.66 L669.64 369.92 L672.74 378.06 L675.83 390.48 L678.92 408.79 L682.01 433.52 L685.1 462.46 L688.19 490.81 L691.29 514.23 L694.38 531.32 L697.47 543.07 L700.56 551.25 L703.65 557.44 L706.74 562.74 L709.84 567.87 L712.93 573.23 L716.02 578.93 L719.11 584.77 L722.2 590.21 L725.29 594.38 L728.39 596.26 L731.48 595.11 L734.57 590.94 L737.66 584.83 L740.75 578.4 L743.84 572.91 L746.94 568.85 L750.03 566.1 L753.12 564.36" fill="none" stroke="#3841a8" stroke-width="1.1" stroke-linejoin="round" stroke-dasharray="11 11.2"/>
<path d="M447.04 505.54 L450.13 493.24 L453.22 479.65 L456.31 465.22 L459.41 450.53 L462.5 436.25 L465.59 422.99 L468.68 411.22 L471.77 401.24 L474.86 393.16 L477.96 386.95 L481.05 382.49 L484.14 379.58 L487.23 378.07 L490.32 377.77 L493.41 378.58 L496.51 380.4 L499.6 383.19 L502.69 386.94 L505.78 391.68 L508.87 397.46 L511.97 404.33 L515.06 412.38 L518.15 421.65 L521.24 432.16 L524.33 443.86 L527.42 456.63 L530.52 470.26 L533.61 484.39 L536.7 498.69 L539.79 512.69 L542.88 525.98 L545.97 538.18 L549.07 549.02 L552.16 558.35 L555.25 566.12 L558.34 572.35 L561.43 577.52 L564.52 580.01 L567.62 580.85 L570.71 580.75 L573.8 579.54 L576.89 577.29 L579.98 574.31 L583.07 570.01 L586.17 565.09 L589.26 558.71 L592.35 552.14 L595.44 545.06 L598.53 537.53 L601.63 529.62 L604.72 518.1 L607.81 505.46 L610.9 496.29 L613.99 481.95 L617.08 468.01 L620.18 453.9 L623.27 445.34 L626.36 431.12 L629.45 423.61 L632.54 413.59 L635.63 407.56 L638.73 401.99 L641.82 396.91 L644.91 391.97 L648 388.5 L651.09 386.25 L654.18 385.16 L657.28 384.93 L660.37 385.57 L663.46 387.53 L666.55 390.73 L669.64 395.19 L672.74 401 L675.83 408.22 L678.92 416.85 L682.01 426.99 L685.1 438.57 L688.19 450.93 L691.29 463.86 L694.38 477.01 L697.47 489.98 L700.56 502.42 L703.65 514.06 L706.74 524.69 L709.84 534.18 L712.93 542.48 L716.02 549.61 L719.11 555.6 L722.2 560.55 L725.29 564.53 L728.39 567.63 L731.48 569.97 L734.57 571.62 L737.66 572.69 L740.75 573.28 L743.84 573.46 L746.94 573.33 L750.03 572.95 L753.12 572.41" fill="none" stroke="#3841a8" stroke-width="1.1" stroke-linejoin="round" stroke-dasharray="1.2 7.4 11.3 7.5"/>
<g fill="#e22c1a"><circle cx="443.95" cy="559.98" r="2.25"/><circle cx="498.39" cy="349.82" r="2.25"/><circle cx="498.46" cy="349.85" r="2.25"/><circle cx="501.27" cy="351.66" r="2.25"/><circle cx="510.32" cy="369.05" r="2.25"/><circle cx="528.15" cy="444.65" r="2.25"/><circle cx="533.93" cy="475.88" r="2.25"/><circle cx="556.93" cy="588.46" r="2.25"/><circle cx="562.1" cy="604.48" r="2.25"/><circle cx="570.91" cy="619.44" r="2.25"/><circle cx="574.67" cy="620.68" r="2.25"/><circle cx="578.09" cy="619.06" r="2.25"/><circle cx="587.61" cy="601.22" r="2.25"/><circle cx="588.91" cy="597.34" r="2.25"/><circle cx="589.7" cy="594.85" r="2.25"/><circle cx="590.64" cy="591.75" r="2.25"/><circle cx="592.73" cy="584.26" r="2.25"/><circle cx="598.75" cy="558.87" r="2.25"/><circle cx="607.86" cy="512.74" r="2.25"/><circle cx="616.29" cy="466.5" r="2.25"/><circle cx="621.17" cy="440.46" r="2.25"/><circle cx="621.21" cy="440.2" r="2.25"/><circle cx="622.49" cy="433.62" r="2.25"/><circle cx="624.88" cy="421.72" r="2.25"/><circle cx="633.76" cy="383.49" r="2.25"/><circle cx="636.88" cy="372.96" r="2.25"/><circle cx="643.53" cy="356.73" r="2.25"/><circle cx="649.18" cy="350.22" r="2.25"/><circle cx="651.15" cy="349.62" r="2.25"/><circle cx="653.24" cy="349.92" r="2.25"/><circle cx="658.78" cy="355.42" r="2.25"/><circle cx="658.85" cy="355.54" r="2.25"/><circle cx="660.01" cy="357.55" r="2.25"/><circle cx="676" cy="411.25" r="2.25"/><circle cx="699.98" cy="537.74" r="2.25"/><circle cx="703.43" cy="554.66" r="2.25"/><circle cx="710.22" cy="583.74" r="2.25"/><circle cx="726.31" cy="619.99" r="2.25"/><circle cx="752.26" cy="563.71" r="2.25"/><circle cx="753.12" cy="559.8" r="2.25"/></g>
<path d="M440.7 349.6 V620.7 H785.1" fill="none" stroke="#242424" stroke-width="1.3" stroke-linecap="square"/>
<path d="M465.3 620.7 v-3.4 M514.5 620.7 v-3.4 M563.7 620.7 v-3.4 M612.9 620.7 v-3.4 M662.1 620.7 v-3.4 M711.3 620.7 v-3.4 M760.5 620.7 v-3.4 M440.7 620.7 h3.4 M440.7 593.59 h3.4 M440.7 566.48 h3.4 M440.7 539.37 h3.4 M440.7 512.26 h3.4 M440.7 485.15 h3.4 M440.7 458.04 h3.4 M440.7 430.93 h3.4 M440.7 403.82 h3.4 M440.7 376.71 h3.4 M440.7 349.6 h3.4" stroke="#242424" stroke-width="1.25" fill="none"/>
<g font-family='"Liberation Serif", serif' font-size="10.75" fill="#111" stroke="#111" stroke-width="0.2">
<text x="462.8" y="632.8" text-anchor="middle">−6</text>
<text x="512" y="632.8" text-anchor="middle">−4</text>
<text x="561.2" y="632.8" text-anchor="middle">−2</text>
<text x="612.9" y="632.8" text-anchor="middle">0</text>
<text x="662.1" y="632.8" text-anchor="middle">2</text>
<text x="711.3" y="632.8" text-anchor="middle">4</text>
<text x="760.5" y="632.8" text-anchor="middle">6</text>
<text x="438.2" y="624.7" text-anchor="end">−1</text>
<text x="438.2" y="597.59" text-anchor="end">−0.8</text>
<text x="438.2" y="570.48" text-anchor="end">−0.6</text>
<text x="438.2" y="543.37" text-anchor="end">−0.4</text>
<text x="438.2" y="516.26" text-anchor="end">−0.2</text>
<text x="438.2" y="489.15" text-anchor="end">0</text>
<text x="438.2" y="462.04" text-anchor="end">0.2</text>
<text x="438.2" y="434.93" text-anchor="end">0.4</text>
<text x="438.2" y="407.82" text-anchor="end">0.6</text>
<text x="438.2" y="380.71" text-anchor="end">0.8</text>
<text x="438.2" y="353.6" text-anchor="end">1</text>
<text x="612.9" y="342.1" text-anchor="middle">Nearest Neighbor Regression, 40 pts, k=20</text>
<text x="612.9" y="643.3" text-anchor="middle">Explanatory variable</text>
<text transform="translate(413.3 485.15) rotate(-90)" text-anchor="middle">Dependent variable</text>
</g>
<rect x="696.75" y="353.3" width="84.85" height="52.95" rx="0.8" fill="#fff" stroke="#242424" stroke-width="1.3"/>
<g font-family='"Liberation Serif", serif' font-size="10.75" fill="#111" stroke="#111" stroke-width="0.2">
<path d="M701.35 361.05 h22.8" stroke="#3841a8" stroke-width="1.1" fill="none"/>
<text x="726.75" y="364.45">Inverse Dist</text>
<path d="M701.35 373.6 h22.8" stroke="#3841a8" stroke-width="1.1" fill="none" stroke-dasharray="1.4 6.1"/>
<text x="726.75" y="377">Exp si=0.1</text>
<path d="M701.35 386.15 h22.8" stroke="#3841a8" stroke-width="1.1" fill="none" stroke-dasharray="11 11.2"/>
<text x="726.75" y="389.55">Exp si=0.5</text>
<path d="M701.35 398.7 h22.8" stroke="#3841a8" stroke-width="1.1" fill="none" stroke-dasharray="1.2 7.4 11.3 7.5"/>
<text x="726.75" y="402.1">Exp si=1</text>
</g>
</svg></body></html>
